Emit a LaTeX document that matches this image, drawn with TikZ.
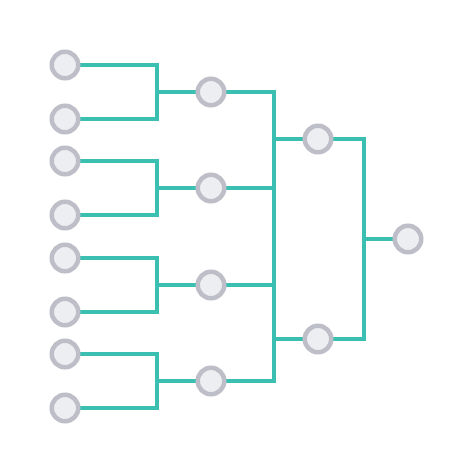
\documentclass[tikz,border=0pt]{standalone}
\usetikzlibrary{backgrounds}
\definecolor{teal1}{HTML}{3ABFB1}
\definecolor{ring}{HTML}{BEBEC9}
\definecolor{dotfill}{HTML}{EDEEF2}
\begin{document}
\begin{tikzpicture}[x=1pt,y=-1pt,
  dot/.style={circle,draw=ring,fill=dotfill,line width=4.5pt,minimum size=26.5pt,inner sep=0pt},
  wire/.style={draw=teal1,line width=4.6pt,line join=miter}]
\useasboundingbox (0,0) rectangle (474,474);
% leaves
\node[dot] (l1) at (65,65) {};
\node[dot] (l2) at (65,119) {};
\node[dot] (l3) at (65,161) {};
\node[dot] (l4) at (65,215) {};
\node[dot] (l5) at (65,258) {};
\node[dot] (l6) at (65,312) {};
\node[dot] (l7) at (65,354) {};
\node[dot] (l8) at (65,408) {};
% second column
\node[dot] (m1) at (211,92) {};
\node[dot] (m2) at (211,188) {};
\node[dot] (m3) at (211,285) {};
\node[dot] (m4) at (211,381) {};
% third column
\node[dot] (t1) at (318,139) {};
\node[dot] (t2) at (318,339) {};
% final
\node[dot] (f) at (408,239) {};
% junctions
\coordinate (j1) at (157,92);
\coordinate (j2) at (157,188);
\coordinate (j3) at (157,285);
\coordinate (j4) at (157,381);
\coordinate (k1) at (274,139);
\coordinate (k2) at (274,339);
\coordinate (r) at (364,239);
\begin{pgfonlayer}{background}
\fill[white] (0,0) rectangle (474,474);
\draw[wire] (l1.center) -| (j1) |- (l2.center);
\draw[wire] (l3.center) -| (j2) |- (l4.center);
\draw[wire] (l5.center) -| (j3) |- (l6.center);
\draw[wire] (l7.center) -| (j4) |- (l8.center);
\draw[wire] (j1) -- (m1.center);
\draw[wire] (j2) -- (m2.center);
\draw[wire] (j3) -- (m3.center);
\draw[wire] (j4) -- (m4.center);
\draw[wire] (m1.center) -| (k1) -- (k2) |- (m4.center);
\draw[wire] (m2.center) -| (k1);
\draw[wire] (m3.center) -| (k2);
\draw[wire] (k1) -- (t1.center);
\draw[wire] (k2) -- (t2.center);
\draw[wire] (t1.center) -| (r) |- (t2.center);
\draw[wire] (r) -- (f.center);
\end{pgfonlayer}
\end{tikzpicture}
\end{document}
